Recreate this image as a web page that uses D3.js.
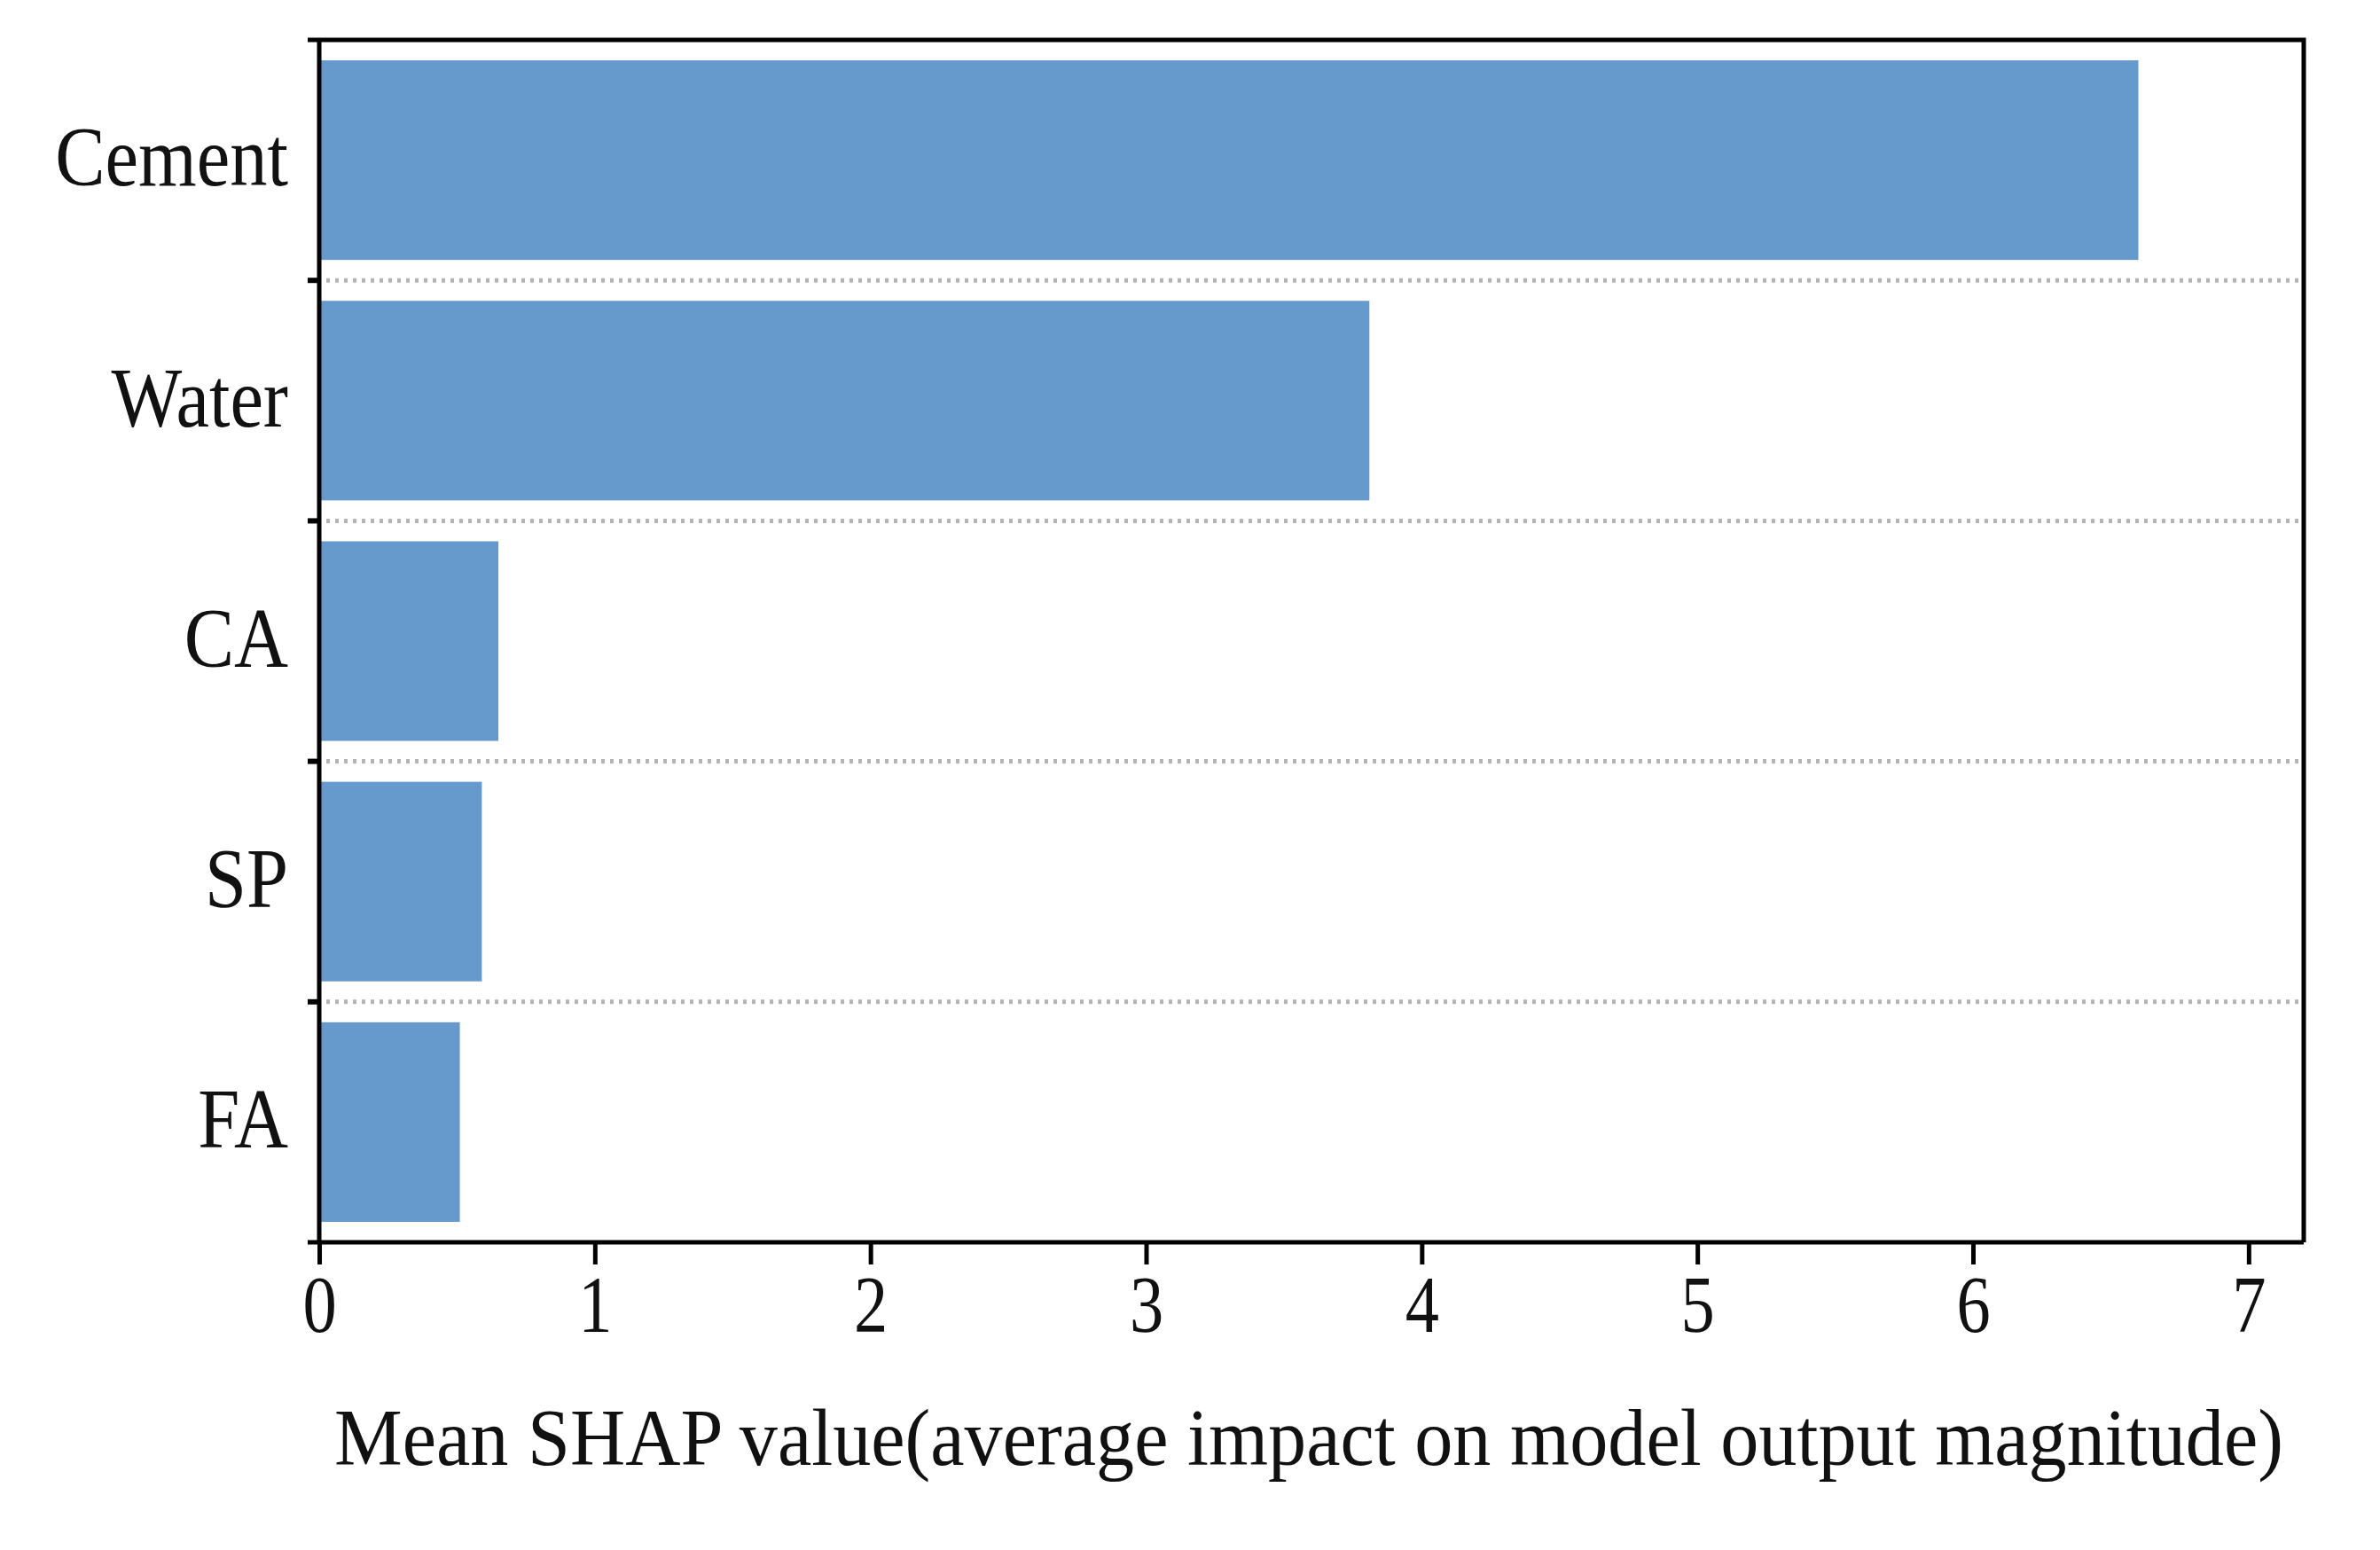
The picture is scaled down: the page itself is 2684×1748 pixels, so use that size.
<!DOCTYPE html>
<html>
<head>
<meta charset="utf-8">
<script src="https://cdn.jsdelivr.net/npm/d3@7"></script>
<style>
  body { margin: 0; background: #fff; }
  text { font-family: "Liberation Serif", "Times New Roman", serif; fill: #111; }
</style>
</head>
<body>
<div id="chart"></div>
<script>
// DATOS
const features = ["Cement", "Water", "CA", "SP", "FA"]
const shapValues = [6.6, 3.81, 0.65, 0.59, 0.51]
const xTicks = [0, 1, 2, 3, 4, 5, 6, 7]
const xTitle = "Mean SHAP value(average impact on model output magnitude)"

// CONSTANTES
const width = 2684
const height = 1748
const margin = { left: 360, right: 86, top: 45, bottom: 347 }
const innerW = width - margin.left - margin.right
const innerH = height - margin.top - margin.bottom

const svg = d3.select("#chart").append("svg").attr("width", width).attr("height", height)
const g = svg.append("g").attr("transform", `translate(${margin.left}, ${margin.top})`)

// letras algo estrechas como en la figura original
const squeeze = function(k) {
  return function() {
    const len = this.getComputedTextLength()
    d3.select(this).attr("textLength", len * k).attr("lengthAdjust", "spacingAndGlyphs")
  }
}

// ESCALAS
const x = d3.scaleLinear().domain([0, 7.2]).range([0, innerW])
const y = d3.scaleBand().domain(features).range([0, innerH]).paddingInner(0.17).paddingOuter(0.085)
const yB = d3.scaleBand().domain(features).range([0, innerH])

// rejilla punteada en los limites de cada banda
g.selectAll(".grid").data(features.slice(1))
  .enter().append("line")
  .attr("class", "grid")
  .attr("x1", 8).attr("x2", innerW)
  .attr("y1", d => yB(d)).attr("y2", d => yB(d))
  .attr("stroke", "#b4b4b4").attr("stroke-width", 5)
  .attr("stroke-dasharray", "4,6")

// BARRAS
g.selectAll("rect.bar").data(features)
  .enter().append("rect")
  .attr("class", "bar")
  .attr("x", x(0))
  .attr("y", d => y(d))
  .attr("width", (d, i) => x(shapValues[i]) - x(0))
  .attr("height", y.bandwidth())
  .attr("fill", "#6699cc")

// marco superior y derecho
g.append("path")
  .attr("d", `M-13,0H${innerW}V${innerH}`)
  .attr("fill", "none").attr("stroke", "#000").attr("stroke-width", 5)

// EJES
const xAxis = d3.axisBottom(x).tickValues(xTicks).tickFormat(d3.format("d")).tickSize(25).tickSizeOuter(0).tickPadding(12)
const xAxisGroup = g.append("g").attr("transform", `translate(0, ${innerH})`).call(xAxis)
xAxisGroup.select(".domain").attr("stroke-width", 5).attr("d", `M-13,0H${innerW}`)
xAxisGroup.selectAll(".tick line").attr("stroke-width", 5)
xAxisGroup.selectAll("text").attr("font-size", 90).attr("fill", "#111").each(squeeze(0.85))

// eje y: ticks en los limites de banda
const yAxisGroup = g.append("g")
yAxisGroup.append("line").attr("x1", 0).attr("x2", 0).attr("y1", 0).attr("y2", innerH)
  .attr("stroke", "#000").attr("stroke-width", 5)
yAxisGroup.selectAll(".ytick").data(features.slice(1))
  .enter().append("line")
  .attr("class", "ytick")
  .attr("x1", -13).attr("x2", 0)
  .attr("y1", d => yB(d)).attr("y2", d => yB(d))
  .attr("stroke", "#000").attr("stroke-width", 6)

yAxisGroup.selectAll(".ylabel").data(features)
  .enter().append("text")
  .attr("class", "ylabel")
  .attr("x", -35)
  .attr("y", d => yB(d) + yB.bandwidth() / 2)
  .attr("dy", "0.3em")
  .attr("text-anchor", "end")
  .attr("font-size", 96)
  .text(d => d)
  .each(squeeze(0.88))

// titulo eje x
svg.append("text")
  .attr("x", margin.left + innerW / 2 - 3)
  .attr("y", 1652)
  .attr("text-anchor", "middle")
  .attr("font-size", 90)
  .attr("textLength", 2198)
  .attr("lengthAdjust", "spacingAndGlyphs")
  .text(xTitle)
</script>
</body>
</html>
